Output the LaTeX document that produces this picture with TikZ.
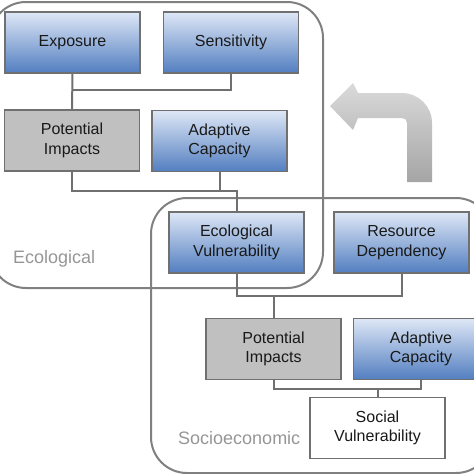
\documentclass[tikz,border=0pt]{standalone}
\usepackage{fontspec}
\setmainfont{Liberation Sans}

\definecolor{boxtop}{RGB}{222,231,246}
\definecolor{boxmid}{RGB}{178,198,232}
\definecolor{boxbot}{RGB}{82,126,192}
\definecolor{edgegray}{RGB}{112,112,112}
\definecolor{ringgray}{RGB}{128,128,128}
\definecolor{labelgray}{RGB}{150,150,150}
\definecolor{impactgray}{RGB}{192,192,192}
\definecolor{arrowlight}{RGB}{218,218,218}
\definecolor{arrowdark}{RGB}{165,165,165}

\tikzset{
  factor/.style={draw=edgegray, line width=1.6pt, minimum width=135pt, minimum height=61pt,
    inner sep=0pt, align=center, font=\fontsize{16}{19.5}\selectfont, text=black!90},
  bluebox/.style={factor, top color=boxtop, middle color=boxmid, bottom color=boxbot},
  graybox/.style={factor, fill=impactgray},
  whitebox/.style={factor, fill=white},
  link/.style={draw=edgegray, line width=2pt},
  ring/.style={draw=ringgray, line width=2pt, rounded corners=36pt},
  ringlabel/.style={text=labelgray, font=\fontsize{18}{21}\selectfont, anchor=west, inner sep=0pt},
}

\begin{document}
\begin{tikzpicture}[x=1pt, y=-1pt]
  \useasboundingbox (0,0) rectangle (474,474);
  \clip (0,0) rectangle (474,474);

  % the two domains
  \draw[ring] (-10,2) rectangle (323,288);
  \draw[ring] (151,198) rectangle (492,473);
  \node[ringlabel] (ecolabel) at (13,259) {Ecological};
  \node[ringlabel] (soclabel) at (178,438) {Socioeconomic};

  % turn arrow
  \shade[top color=arrowlight, bottom color=arrowdark]
    (330,106) -- (353,83) -- (358,93) -- (402,93)
    .. controls (418.5,93) and (432,106.5) .. (432,123)
    -- (432,182) -- (407,182) -- (407,123)
    .. controls (407,120) and (405,118) .. (402,118)
    -- (358,118) -- (353,130) -- cycle;

  % ecological factors
  \node[bluebox] (expo) at (72.5,42.5) {Exposure};
  \node[bluebox] (sens) at (231,42.5) {Sensitivity};
  \node[graybox] (pimp) at (72,140.5) {Potential\\Impacts};
  \node[bluebox] (acap) at (219.5,141) {Adaptive\\Capacity};
  \node[bluebox] (ecovul) at (236.5,242.5) {Ecological\\Vulnerability};

  % socioeconomic factors
  \node[bluebox] (resdep) at (401.5,242.5) {Resource\\Dependency};
  \node[graybox] (simp) at (273.5,349) {Potential\\Impacts};
  \node[bluebox] (scap) at (421,349) {Adaptive\\Capacity};
  \node[whitebox] (socvul) at (377.5,428) {Social\\Vulnerability};

  % joins
  \coordinate (j1) at (72.5,90);
  \coordinate (j2) at (236.5,191);
  \coordinate (j3) at (273.5,296);
  \coordinate (j4) at (377.5,389);

  \draw[link] (expo.south) -- (pimp.north);
  \draw[link] (j1) -| (sens.south);
  \draw[link] (pimp.south) |- (j2) -- (ecovul.north);
  \draw[link] (acap.south) -- (acap.south |- j2);
  \draw[link] (ecovul.south) |- (j3) -- (simp.north);
  \draw[link] (j3) -| (resdep.south);
  \draw[link] (simp.south) |- (j4) -- (socvul.north);
  \draw[link] (j4) -| (scap.south);
\end{tikzpicture}
\end{document}
